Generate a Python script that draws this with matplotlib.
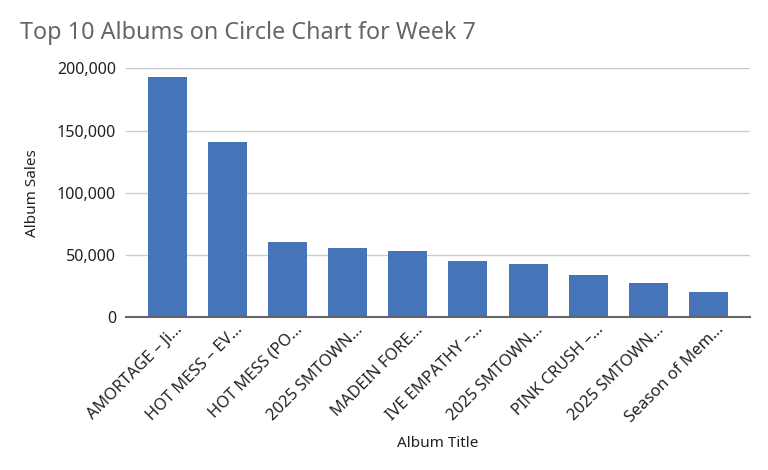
import numpy as np
import matplotlib
matplotlib.use("Agg")
import matplotlib.pyplot as plt
import matplotlib.transforms as mtransforms
from matplotlib.ticker import FuncFormatter

plt.rcParams['font.family'] = ['Noto Sans', 'DejaVu Sans']

albums = ["AMORTAGE – Ji…", "HOT MESS – EV…", "HOT MESS (PO…", "2025 SMTOWN…",
          "MADEIN FORE…", "IVE EMPATHY –…", "2025 SMTOWN…", "PINK CRUSH –…",
          "2025 SMTOWN…", "Season of Mem…"]
sales = [192800, 141200, 60800, 55700, 53500, 45200, 43100, 33700, 27500, 20300]
y_ticks = [0, 50000, 100000, 150000, 200000]

fig = plt.figure(figsize=(7.68, 4.70), dpi=100)
ax = fig.add_axes([0.1637, 0.3245, 0.8129, 0.5302])

x = np.arange(len(albums))
ax.bar(x, sales, width=0.648, color='#4674b9', zorder=3)

ax.set_xlim(-0.687, len(albums) - 1 + 0.687)
ax.set_ylim(0, 200000)
ax.set_yticks(y_ticks)
ax.yaxis.set_major_formatter(FuncFormatter(lambda v, p: f"{int(v):,}"))
ax.grid(axis='y', color='#cccccc', linewidth=1, zorder=0)
ax.set_axisbelow(True)

for s in ['top', 'right', 'left']:
    ax.spines[s].set_visible(False)
ax.spines['bottom'].set_color('#666666')
ax.spines['bottom'].set_linewidth(1.5)
ax.spines['bottom'].set_zorder(4)
ax.tick_params(axis='y', length=0, labelsize=11.5, pad=7, labelcolor='#222222')
ax.tick_params(axis='x', length=0, pad=3)

ax.set_xticks(x)
ax.set_xticklabels(albums, rotation=45, ha='right', rotation_mode='anchor',
                   fontsize=11.8, color='#222222')
# nudge rotated labels a little to the right, like the original
shift = mtransforms.ScaledTranslation(5 / 72, 0, fig.dpi_scale_trans)
for lbl in ax.get_xticklabels():
    lbl.set_transform(lbl.get_transform() + shift)

ax.set_ylabel("Album Sales", fontsize=11, color='#222222', labelpad=12)
ax.set_xlabel("Album Title", fontsize=11, color='#222222', labelpad=7)

fig.text(0.026, 0.93, "Top 10 Albums on Circle Chart for Week 7",
         fontsize=16.8, color='#666666', ha='left', va='center')

fig.savefig("out.png", dpi=100)
